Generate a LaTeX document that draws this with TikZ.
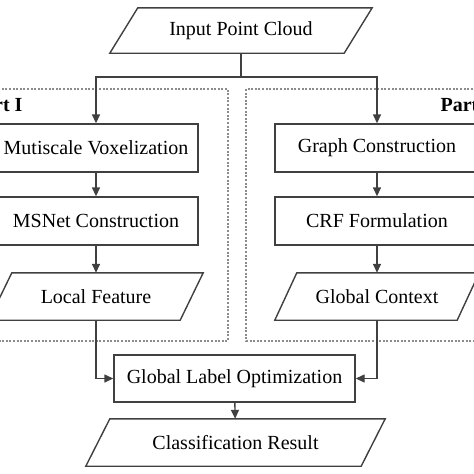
\documentclass[tikz,border=0pt]{standalone}
\usepackage{fontspec}
\setmainfont{Liberation Serif}
\usetikzlibrary{arrows.meta}

\tikzset{
  line/.style={draw=black!75,line width=1.4pt},
  arr/.style={line,-{Triangle[length=9pt,width=8pt]}},
  procbox/.style={draw=black!75,line width=1.4pt,rectangle,minimum width=204pt,minimum height=48pt,inner sep=0pt},
  iobox/.style={rectangle,minimum height=47pt,inner sep=0pt},
  partbox/.style={draw=black!45,line width=1.2pt,dash pattern=on 2pt off 1.6pt},
}

\begin{document}
\begin{tikzpicture}[x=1pt,y=-1pt,font=\fontsize{20}{24}\selectfont]
        \useasboundingbox (0,0) rectangle (474,474);

        % dashed frames of the two parts
        \draw[partbox] (-5,89) rectangle (228,341);
        \draw[partbox] (246,89) rectangle (480,341);
        \node[anchor=east,font=\fontsize{20}{24}\selectfont\bfseries] (p1) at (26,105) {Part I};
        \node[anchor=west,font=\fontsize{20}{24}\selectfont\bfseries] (p2) at (437,105) {Part II};

        \node[iobox,minimum width=234pt,minimum height=45pt] (input) at (241,30.5) {Input Point Cloud};
        \coordinate (split) at (241,77);

        % part I
        \node[procbox] (voxel) at (96,148) {Mutiscale Voxelization};
        \node[procbox] (msnet) at (96,221) {MSNet Construction};
        \node[iobox,minimum width=191pt] (local) at (96,296.5) {Local Feature};

        % part II
        \node[procbox] (graph) at (377,148) {Graph Construction};
        \node[procbox] (crf) at (377,221) {CRF Formulation};
        \node[iobox,minimum width=182pt] (global) at (377,296.5) {Global Context};

        \node[procbox,minimum width=241pt,minimum height=47pt] (opt) at (234.5,378.5) {Global Label Optimization};
        \node[iobox,minimum width=275pt] (result) at (235.5,442.5) {Classification Result};

        % slanted outlines of the data nodes
        \foreach \n/\s in {input/14,local/11.5,global/11,result/12} {
          \draw[line,line join=miter] ([xshift=\s pt]\n.north west) -- ([xshift=\s pt]\n.north east)
            -- ([xshift=-\s pt]\n.south east) -- ([xshift=-\s pt]\n.south west) -- cycle;
        }

        \draw[line] (input) -- (split);
        \draw[arr] (split) -| (voxel);
        \draw[arr] (split) -| (graph);
        \draw[arr] (voxel) -- (msnet);
        \draw[arr] (msnet) -- (local);
        \draw[arr] (graph) -- (crf);
        \draw[arr] (crf) -- (global);
        \draw[arr] (local) |- (opt);
        \draw[arr] (global) |- (opt);
        \draw[arr] (opt) -- (result);
      \end{tikzpicture}
\end{document}
